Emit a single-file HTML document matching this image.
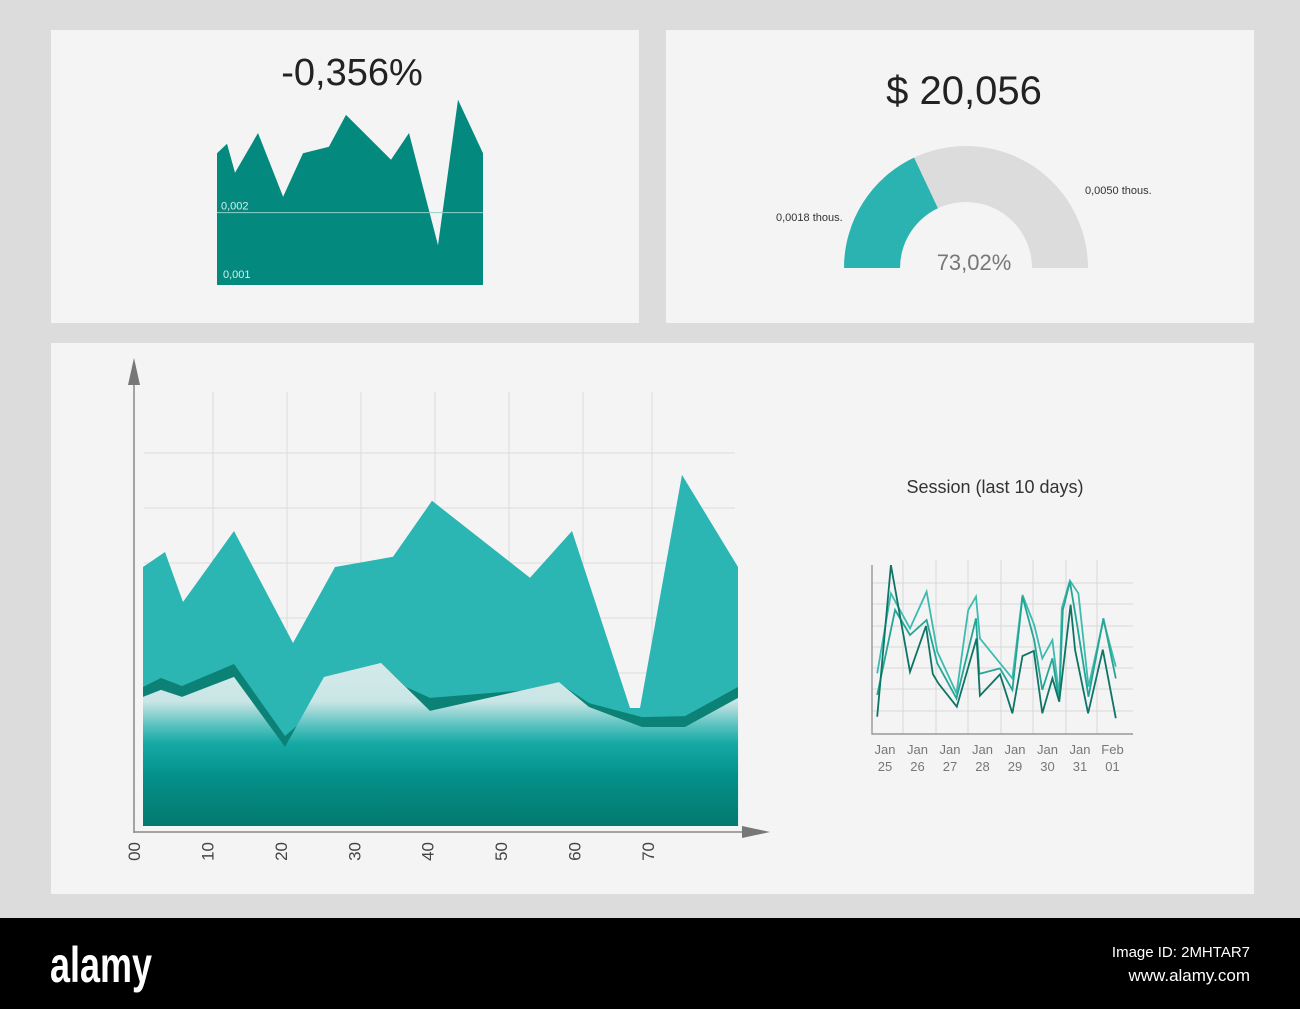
<!DOCTYPE html>
<html><head><meta charset="utf-8">
<style>
html,body{margin:0;padding:0;background:#dcdcdc;width:1300px;height:1009px;overflow:hidden;font-family:"Liberation Sans",sans-serif}
svg{display:block}
</style></head>
<body>
<svg id="root" width="1300" height="1009" viewBox="0 0 1300 1009">
<defs>
<linearGradient id="lightGrad" gradientUnits="userSpaceOnUse" x1="0" y1="660" x2="0" y2="826">
<stop offset="0" stop-color="#d5eaea"/>
<stop offset="0.25" stop-color="#c9e5e5"/>
<stop offset="0.4" stop-color="#55c1be"/>
<stop offset="0.5" stop-color="#16aaa5"/>
<stop offset="0.7" stop-color="#04908a"/>
<stop offset="1" stop-color="#037a6f"/>
</linearGradient>
</defs>
<rect x="51" y="30" width="588" height="293" fill="#f4f4f4"/>
<rect x="666" y="30" width="588" height="293" fill="#f4f4f4"/>
<rect x="51" y="343" width="1203" height="551" fill="#f4f4f4"/>

<text x="352" y="85" font-size="38" text-anchor="middle" fill="#222">-0,356%</text>
<g id="topArea"></g>

<text x="964" y="104" font-size="40" text-anchor="middle" fill="#222">$ 20,056</text>
<g id="gauge"></g>
<text x="776" y="221" font-size="11" fill="#333">0,0018 thous.</text>
<text x="1085" y="194" font-size="11" fill="#333">0,0050 thous.</text>
<text x="974" y="270" font-size="22" text-anchor="middle" fill="#777">73,02%</text>

<g id="mainChart"></g>

<text x="995" y="493" font-size="18" text-anchor="middle" fill="#333">Session (last 10 days)</text>
<g id="session"></g>

<rect x="0" y="918" width="1300" height="91" fill="#000"/>
<text x="50" y="982" font-size="50" font-weight="bold" fill="#fff" textLength="102" lengthAdjust="spacingAndGlyphs">alamy</text>
<text x="1250" y="957" font-size="15" fill="#fff" text-anchor="end">Image ID: 2MHTAR7</text>
<text x="1250" y="981" font-size="17" fill="#fff" text-anchor="end">www.alamy.com</text>
</svg>
<script>
const NS='http://www.w3.org/2000/svg';
function mk(tag,attrs,parent){const e=document.createElementNS(NS,tag);for(const k in attrs)e.setAttribute(k,attrs[k]);parent.appendChild(e);return e;}

// ---- top-left area chart data ----
const topX=[0,0.45,0.81,1.85,2.98,3.88,5.05,5.82,7.85,8.66,9.97,10.87,12];
const topVals=[2.82,2.95,2.55,3.10,2.22,2.82,2.91,3.35,2.73,3.10,1.55,3.56,2.82];
const topTicks=['0,002','0,001'];
// ---- gauge data ----
const gaugeValue=0.0018;
const gaugeTotal=0.0050;
// ---- main chart data ----
const mainTickLabels=['00','10','20','30','40','50','60','70'];
const mainTickVals=[0,10,20,30,40,50,60,70];
const bigX=[1.23,4.22,6.67,13.62,21.65,27.37,35.27,40.58,53.93,59.65,67.55,68.91,74.63,82.26];
const bigV=[74.0,78.3,64.0,84.3,52.3,74.0,76.9,92.9,70.9,84.3,33.7,33.7,100.3,74.0];
const darkX=[1.23,3.68,6.54,13.62,20.56,22.61,25.87,33.64,37.04,40.31,58.70,61.96,69.18,75.04,82.26];
const darkV=[39.7,42.3,40.0,46.3,25.7,29.4,42.6,46.6,39.7,36.6,39.7,35.1,31.1,31.4,39.7];
const lightX=[1.23,3.68,6.54,13.62,20.56,25.87,33.64,40.31,57.88,61.96,69.18,75.04,82.26];
const lightV=[36.9,38.9,36.9,42.6,22.6,42.6,46.6,32.9,41.1,34.0,28.3,28.3,36.6];
// ---- session data ----
const sessionDays=['Jan|25','Jan|26','Jan|27','Jan|28','Jan|29','Jan|30','Jan|31','Feb|01'];
const s1X=[-0.24,0.18,0.77,1.26,1.47,1.64,2.21,2.82,2.92,3.54,3.92,4.23,4.58,4.84,5.15,5.36,5.71,5.85,6.25,6.70,7.10];
const s1V=[0.81,7.93,2.92,5.07,2.82,2.38,1.28,4.49,1.80,2.80,0.97,3.66,3.90,0.97,2.62,1.52,6.06,3.94,0.97,3.96,0.74];
const s2X=[-0.24,0.31,0.77,1.28,1.61,2.20,2.80,2.90,3.54,3.92,4.23,4.59,4.84,5.15,5.36,5.47,5.69,5.92,6.26,6.72,7.10];
const s2V=[1.83,5.82,4.65,5.35,3.32,1.67,5.43,2.82,3.08,2.07,6.45,4.41,2.07,3.55,1.52,5.82,7.15,5.04,1.75,5.43,2.61];
const s3X=[-0.24,0.18,0.77,1.28,1.61,2.20,2.56,2.80,2.92,3.92,4.23,4.59,4.84,5.15,5.36,5.44,5.69,5.95,6.26,6.72,7.10];
const s3V=[2.85,6.60,4.96,6.68,3.87,1.91,5.82,6.45,4.49,2.61,6.53,5.12,3.55,4.41,1.75,5.90,7.20,6.60,2.22,5.35,3.16];

// top-left chart
(function(){
  const g=document.getElementById('topArea');
  const x=i=>217+i*(266/12), y=v=>285-(v-1)*72.4;
  let d='M'+x(topX[0])+',285';
  topX.forEach((t,i)=>{d+=' L'+x(t).toFixed(1)+','+y(topVals[i]).toFixed(1);});
  d+=' L'+x(topX[topX.length-1])+',285 Z';
  const p=mk('path',{d:d,fill:'#03897d'},g);
  
  
  const l=mk('line',{x1:217,x2:483,y1:y(2),y2:y(2),stroke:'#8fd0c8','stroke-width':1},g);
  
  
  [[2,topTicks[0]],[1,topTicks[1]]].forEach(([v,t],i)=>{
    const tx=mk('text',{x:221+i*2,y:y(v)-3-(i?4:0),'font-size':11,fill:'#d8efec'},g);tx.textContent=t;
    
    
  });
})();

// gauge
(function(){
  const g=document.getElementById('gauge');
  const cx=966,cy=268,R=122,r=66;
  const frac=gaugeValue/gaugeTotal;
  const a=Math.PI*(1-frac);
  const ox=cx+R*Math.cos(a),oy=cy-R*Math.sin(a),ix=cx+r*Math.cos(a),iy=cy-r*Math.sin(a);
  const bg=mk('path',{d:`M${cx-R},${cy} A${R},${R} 0 0 1 ${cx+R},${cy} L${cx+r},${cy} A${r},${r} 0 0 0 ${cx-r},${cy} Z`,fill:'#dcdcdc'},g);
  
  
  const fg=mk('path',{d:`M${cx-R},${cy} A${R},${R} 0 0 1 ${ox},${oy} L${ix},${iy} A${r},${r} 0 0 0 ${cx-r},${cy} Z`,fill:'#2bb3b1'},g);
  
  
})();

// main chart
(function(){
  const g=document.getElementById('mainChart');
  const x=u=>134+u*7.343, y=v=>826-v*3.5;
  [213,287,361,435,509,583,652].forEach(px=>{
    const l=mk('line',{x1:px,x2:px,y1:392,y2:826,stroke:'#dcdcdc','stroke-width':1},g);
    
    
  });
  [453,508,563,618,673,728,783].forEach(py=>{
    const l=mk('line',{x1:144,x2:735,y1:py,y2:py,stroke:'#dcdcdc','stroke-width':1},g);
    
    
  });
  function area(xs,vs,fill,name){
    let d='M'+x(xs[0])+',826';
    xs.forEach((u,i)=>{d+=' L'+x(u).toFixed(1)+','+y(vs[i]).toFixed(1);});
    d+=' L'+x(xs[xs.length-1])+',826 Z';
    const p=mk('path',{d:d,fill:fill},g);
    
    
  }
  area(bigX,bigV,'#2bb5b3','area-series-1');
  area(darkX,darkV,'#0b8275','area-series-2');
  area(lightX,lightV,'url(#lightGrad)','area-series-3');
  const ya=mk('line',{x1:134,x2:134,y1:380,y2:833,stroke:'#888','stroke-width':1.5},g);
  
  
  const yar=mk('polygon',{points:'128,385 134,358 140,385',fill:'#777'},g);
  
  
  const xa=mk('line',{x1:134,x2:748,y1:832,y2:832,stroke:'#888','stroke-width':1.5},g);
  
  
  const xar=mk('polygon',{points:'742,826 770,832 742,838',fill:'#777'},g);
  
  
  mainTickVals.forEach((v,i)=>{
    const px=x(v)+6;
    const t=mk('text',{x:px,y:842,'font-size':17,fill:'#444','text-anchor':'end',transform:`rotate(-90 ${px} 842)`},g);
    t.textContent=mainTickLabels[i];
    
    
  });
})();

// session chart
(function(){
  const g=document.getElementById('session');
  const x=d=>885+d*32.5, y=v=>734-v*21.3;
  [903,936,968,1001,1033,1066,1097].forEach(px=>{
    const l=mk('line',{x1:px,x2:px,y1:560,y2:734,stroke:'#d8d8d8','stroke-width':1},g);
    
    
  });
  [583,604,626,647,668,689,711].forEach(py=>{
    const l=mk('line',{x1:872,x2:1133,y1:py,y2:py,stroke:'#d8d8d8','stroke-width':1},g);
    
    
  });
  const ax=mk('polyline',{points:'872,565 872,734 1133,734',fill:'none',stroke:'#888','stroke-width':1.2},g);
  
  
  function line(xs,vs,color,name){
    const pts=xs.map((d,i)=>x(d).toFixed(1)+','+y(vs[i]).toFixed(1)).join(' ');
    const p=mk('polyline',{points:pts,fill:'none',stroke:color,'stroke-width':1.8,'stroke-linejoin':'miter'},g);
    
    
  }
  line(s3X,s3V,'#3dbbb0','session-series-3');
  line(s2X,s2V,'#25a596','session-series-2');
  line(s1X,s1V,'#0d7466','session-series-1');
  sessionDays.forEach((s,i)=>{
    const [m,dd]=s.split('|');
    const t1=mk('text',{x:x(i),y:754,'font-size':13,fill:'#777','text-anchor':'middle'},g);t1.textContent=m;
    
    
    const t2=mk('text',{x:x(i),y:771,'font-size':13,fill:'#777','text-anchor':'middle'},g);t2.textContent=dd;
    
    
  });
})();
</script>
</body></html>
